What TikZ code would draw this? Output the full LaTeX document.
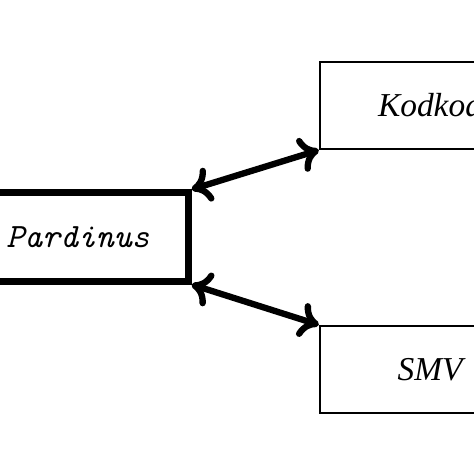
\documentclass[tikz,border=0pt]{standalone}
\usepackage{fontspec}
\newfontfamily\toolfont{Liberation Serif}
\usetikzlibrary{arrows.meta}

\tikzset{
  tool/.style={draw, line width=0.6pt, minimum width=2.2cm, minimum height=0.87cm,
    font=\toolfont\itshape\fontsize{9.5}{11}\selectfont},
  mainbox/.style={draw, line width=2pt, minimum width=2.2cm, minimum height=0.88cm,
    font=\ttfamily\itshape\fontsize{9.7}{11}\selectfont},
  link/.style={line width=1.8pt, {To[length=5.5pt,width=10pt]}-{To[length=5.5pt,width=10pt]}}
}

\begin{document}
\begin{tikzpicture}[x=0.01cm, y=-0.01cm]
  \useasboundingbox (0,0) rectangle (474,474);
  % solver and its back ends
  \node[mainbox] (pardinus) at (78,237) {Pardinus};
  \node[tool] (kodkod) at (430,105.5) {Kodkod};
  \node[tool] (smv) at (430,369.5) {SMV};
  \draw[link] (pardinus.north east) -- (kodkod.south west);
  \draw[link] (pardinus.south east) -- (smv.north west);
\end{tikzpicture}
\end{document}
